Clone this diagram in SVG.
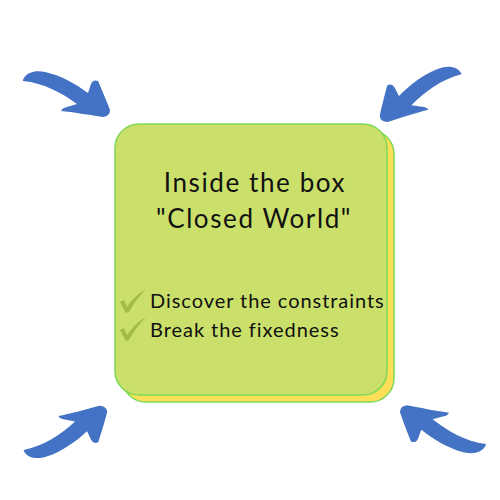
<svg xmlns="http://www.w3.org/2000/svg" xmlns:xlink="http://www.w3.org/1999/xlink" width="500" height="500" viewBox="0 0 500 500">
<style>
.arrow{fill:#4472c4}
.title{font-family:Lato,"Open Sans",sans-serif;font-size:26px;letter-spacing:1.6px;fill:#111;text-anchor:middle}
.item{font-family:Lato,"Open Sans",sans-serif;font-size:20px;letter-spacing:0.95px;fill:#111;font-variant-ligatures:none}
.check{fill:#9db43f;opacity:0.85}
</style>
<defs>
<g id="arrowShape"><path class="arrow" transform="translate(-110,-112)" d="M23,80 C26,72 36,70 45,72 C60,75 76,84 88,93 L91,84 Q93,79 98,81 C102,90 107,102 110,110 Q110,116 103,117 C90,115 72,112 61,111 Q62,108 67,107 L77,104 C62,93 44,83 23,81 Z"/></g>
<path id="checkShape" d="M0,12 L4,10 L7,17 Q14,6 26,-1 Q16,9 9,22 L6,23 Z"/>
</defs>
<g id="connectors">
<use xlink:href="#arrowShape" href="#arrowShape" transform="translate(110,112)"/>
<use xlink:href="#arrowShape" href="#arrowShape" transform="translate(380,118) rotate(-8.6) scale(-1,1)"/>
<use xlink:href="#arrowShape" href="#arrowShape" transform="translate(107,410) rotate(-6) scale(1,-1)"/>
<use xlink:href="#arrowShape" href="#arrowShape" transform="translate(400,410) rotate(182)"/>
</g>
<g id="box">
<rect x="122" y="130" width="272" height="272" rx="24" fill="#ffde59" stroke="#7ed957" stroke-width="1.5"/>
<rect x="115" y="124" width="272" height="271" rx="24" fill="#cbe06b" stroke="#7ed957" stroke-width="1.5"/>
<text class="title" x="255" y="192">Inside the box</text>
<text class="title" x="254" y="228">"Closed World"</text>
<use xlink:href="#checkShape" href="#checkShape" class="check" transform="translate(120,290)"/>
<use xlink:href="#checkShape" href="#checkShape" class="check" transform="translate(120,318)"/>
<text class="item" x="150" y="308">Discover the constraints</text>
<text class="item" x="150" y="337">Break the fixedness</text>
</g>
</svg>
